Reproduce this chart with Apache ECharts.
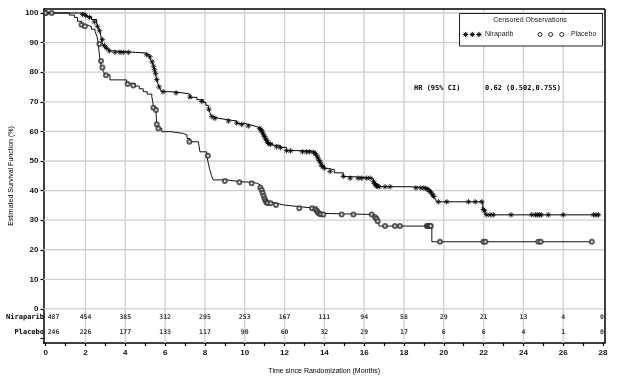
<!DOCTYPE html>
<html><head><meta charset="utf-8">
<script src="https://cdn.jsdelivr.net/npm/echarts@6/dist/echarts.min.js"></script>
<style>html,body{margin:0;padding:0;background:#fff}#c{width:623px;height:392px}</style>
</head><body><div id="c"></div><script>
// ---- data ----
const niraparibCurve = [[0,100],[1.7,100],[1.9,99.5],[2.06,98.8],[2.3,97.8],[2.56,96.5],[2.65,95],[2.73,93.7],[2.78,92],[2.81,90.3],[2.9,89],[2.98,88],[3.15,87.2],[3.4,86.7],[4.5,86.5],[5.0,85.9],[5.2,85.2],[5.3,83.8],[5.4,82.4],[5.45,81.2],[5.49,80.2],[5.55,78.5],[5.6,77],[5.66,75.7],[5.75,74.3],[5.83,73.4],[6.3,73.1],[6.8,72.6],[7.25,71.5],[7.6,70.7],[7.92,69.8],[8.05,68.8],[8.17,67.8],[8.25,66.3],[8.34,65],[8.45,64.4],[8.7,63.9],[9.18,63.5],[9.6,62.7],[10.0,62.2],[10.27,61.6],[10.6,61.0],[10.85,60.5],[10.93,59.5],[11.02,58.2],[11.1,57],[11.19,56],[11.4,55.3],[11.77,54.6],[12.1,53.5],[12.6,53.3],[13.53,52.9],[13.62,51.8],[13.7,50.9],[13.8,49.5],[13.87,48.3],[14.0,47.5],[14.2,47],[14.5,46],[14.95,44.7],[15.4,44.2],[16.45,43.2],[16.55,42],[16.71,41.3],[18.3,40.9],[19.2,40.3],[19.35,39.3],[19.45,38.3],[19.55,37.2],[19.65,36.2],[21.96,33.6],[22.07,31.8],[27.86,31.8]];
const placeboCurve = [[0,100],[1.2,99.3],[1.45,98.5],[1.6,97.2],[1.8,96],[2.06,95.4],[2.3,94.5],[2.48,93.7],[2.58,92],[2.64,89.8],[2.68,87],[2.73,84.1],[2.81,81.3],[2.9,80.2],[2.98,79.1],[3.23,77.4],[4.07,76.2],[4.49,75.3],[4.7,74.4],[4.9,73.4],[5.1,72.6],[5.33,71.7],[5.38,70],[5.41,68.3],[5.54,66.7],[5.56,64.5],[5.58,62.7],[5.66,61],[5.83,59.9],[6.3,59.3],[6.91,58.8],[7.1,57.6],[7.25,56.5],[7.67,56],[7.75,53.1],[8.09,52],[8.17,49.2],[8.25,47],[8.33,45],[8.42,43.6],[9.1,43.0],[9.76,42.8],[10.35,42.5],[10.6,42],[10.77,41.3],[10.85,40],[10.93,38.5],[11.0,37.4],[11.07,36.2],[11.27,35.7],[11.6,35.1],[12.0,34.6],[12.7,34.0],[13.6,32.9],[13.7,32.3],[13.87,31.9],[16.5,31.2],[16.63,30.6],[16.7,29.3],[16.76,28],[19.4,22.7],[27.44,22.7]];
const niraparibCensored = [[0,100],[0.05,100],[1.85,99.5],[2.0,99.2],[2.2,98.5],[2.45,97],[2.6,95.5],[2.7,94],[2.85,91],[2.95,89],[3.05,88.2],[3.2,87.2],[3.48,86.7],[3.73,86.7],[3.9,86.7],[4.15,86.7],[5.07,85.9],[5.24,85.2],[5.35,83.5],[5.42,82],[5.47,80.8],[5.52,79.5],[5.58,77.5],[5.7,75],[5.9,73.4],[6.55,73],[7.25,71.6],[7.84,70.1],[8.2,67.5],[8.35,65],[8.5,64.4],[9.18,63.5],[9.6,62.8],[9.85,62.3],[10.18,61.8],[10.75,61],[10.8,60.6],[10.85,60.2],[10.9,59.5],[10.95,58.8],[11.0,58.2],[11.05,57.5],[11.1,57],[11.15,56.3],[11.2,55.9],[11.3,55.6],[11.6,54.8],[11.8,54.5],[12.1,53.5],[12.3,53.4],[12.9,53.1],[13.1,53.1],[13.25,53.1],[13.45,52.9],[13.55,52.5],[13.62,51.8],[13.68,51],[13.74,50.2],[13.8,49.5],[13.85,48.6],[13.9,48.1],[14.0,47.6],[14.29,46.5],[14.95,44.8],[15.3,44.2],[15.7,44.2],[15.88,44.2],[16.13,44.2],[16.3,44.2],[16.47,43],[16.52,42.4],[16.58,41.9],[16.62,41.6],[16.67,41.5],[16.75,41.3],[17.05,41.3],[17.3,41.3],[18.6,40.9],[18.85,40.9],[19.0,40.9],[19.1,40.7],[19.2,40.3],[19.3,39.7],[19.38,39.2],[19.45,38.5],[19.5,38],[19.73,36.2],[20.15,36.2],[21.24,36.2],[21.58,36.2],[21.91,36.2],[21.99,33.6],[22.05,33.2],[22.16,31.8],[22.33,31.8],[22.49,31.8],[23.38,31.8],[24.42,31.8],[24.6,31.8],[24.7,31.8],[24.8,31.8],[24.9,31.8],[25.25,31.8],[26.0,31.8],[27.52,31.8],[27.65,31.8],[27.77,31.8]];
const placeboCensored = [[0,100],[0.3,100],[1.8,96],[1.97,95.5],[2.7,89.5],[2.78,83.8],[2.85,81.6],[3.03,79],[4.12,76],[4.4,75.5],[5.41,68],[5.54,67.2],[5.58,62.4],[5.66,61],[7.22,56.5],[8.15,51.8],[9.0,43.2],[9.73,42.8],[10.35,42.5],[10.78,41],[10.85,40.2],[10.9,39.2],[10.95,38.2],[11.0,37.2],[11.05,36.5],[11.1,36],[11.15,35.8],[11.3,35.7],[11.57,35.1],[12.74,34],[13.38,34],[13.55,33.8],[13.62,33.2],[13.68,32.6],[13.75,32.2],[13.82,32],[13.95,31.9],[14.87,31.9],[15.46,31.9],[16.38,31.9],[16.55,31],[16.62,30.5],[16.68,29.6],[17.05,28],[17.55,28],[17.8,28],[19.15,28],[19.2,28],[19.25,28],[19.3,28],[19.35,28],[19.81,22.7],[21.99,22.7],[22.09,22.7],[24.75,22.7],[24.87,22.7],[27.44,22.7]];
const riskTimes = [0,2,4,6,8,10,12,14,16,18,20,22,24,26,28];
const niraparibAtRisk = [487,454,385,312,295,253,167,111,94,58,29,21,13,4,0];
const placeboAtRisk = [246,226,177,133,117,90,60,32,29,17,6,6,4,1,0];
const armNames = ['Niraparib','Placebo'];
const xTickValues = [0,1,2,3,4,5,6,7,8,9,10,11,12,13,14,15,16,17,18,19,20,21,22,23,24,25,26,27,28];
const xLabelValues = [0,2,4,6,8,10,12,14,16,18,20,22,24,26,28];
const xGridValues = [2,4,6,8,10,12,14,16,18,20,22,24,26];
const yTickValues = [-10,0,10,20,30,40,50,60,70,80,90,100];
const yLabelValues = [0,10,20,30,40,50,60,70,80,90,100];
const yGridValues = [0,10,20,30,40,50,60,70,80,90,100];
const yTitle = 'Estimated Survival Function (%)';
const xTitle = 'Time since Randomization (Months)';
const legendTitle = 'Censored Observations';
const hrLabel = 'HR (95% CI)';
const hrValue = '0.62 (0.502,0.755)';

(function () {
  const X_MIN = -0.11, X_MAX = 28.1, Y_MIN = -11.5, Y_MAX = 101.35;
  const NIR_ROW = -2.7, PLA_ROW = -7.8;
  const starPath = 'path://M5 0V10M0 5H10M1.6 1.6L8.4 8.4M1.6 8.4L8.4 1.6';
  const mono = 'DejaVu Sans Mono';
  const sans = 'Liberation Sans';
  const gridColor = '#cfcfcf';

  function riskData(vals, row) {
    return riskTimes.map((t, i) => {
      const item = { value: [t, row, vals[i]] };
      if (i === 0) item.label = { align: 'left', offset: [2, 0] };
      if (i === riskTimes.length - 1) item.label = { align: 'right', offset: [1, 0] };
      return item;
    });
  }
  const riskLabel = {
    show: true, position: 'inside', formatter: p => String(p.value[2]),
    fontFamily: mono, fontSize: 6.5, fontWeight: 'bold', color: '#000', align: 'center'
  };

  function starGlyph(cx, cy, r) {
    const d = r * 0.7;
    const segs = [[0,-r,0,r],[-r,0,r,0],[-d,-d,d,d],[-d,d,d,-d]];
    return segs.map(s => ({ type: 'line', shape: { x1: cx + s[0], y1: cy + s[1], x2: cx + s[2], y2: cy + s[3] },
      style: { stroke: '#000', lineWidth: 1 }, z: 11 }));
  }

  const chart = echarts.init(document.getElementById('c'));
  chart.setOption({
    animation: false,
    backgroundColor: '#fff',
    grid: { left: 43.5, right: 18, top: 9, bottom: 49, show: false, outerBoundsMode: 'none' },
    xAxis: {
      type: 'value', min: X_MIN, max: X_MAX,
      name: xTitle, nameLocation: 'middle', nameGap: 25,
      nameTextStyle: { fontFamily: sans, fontSize: 7, color: '#000' },
      axisLine: { show: true, onZero: false, lineStyle: { color: '#000', width: 1.5 } },
      axisTick: { show: true, length: 3, customValues: xTickValues, lineStyle: { color: '#000', width: 1.2 } },
      axisLabel: { customValues: xLabelValues, margin: 6, fontFamily: sans, fontSize: 8, fontWeight: 'bold', color: '#111' },
      splitLine: { show: false }
    },
    yAxis: {
      type: 'value', min: Y_MIN, max: Y_MAX, position: 'left',
      name: yTitle, nameLocation: 'middle', nameGap: 26,
      nameTextStyle: { fontFamily: sans, fontSize: 7, color: '#000' },
      axisLine: { show: true, onZero: false, lineStyle: { color: '#000', width: 1.5 } },
      axisTick: { show: true, length: 3, customValues: yTickValues, lineStyle: { color: '#000', width: 1.2 } },
      axisLabel: { customValues: yLabelValues, margin: 5, fontFamily: sans, fontSize: 8, fontWeight: 'bold', color: '#111' },
      splitLine: { show: false }
    },
    series: [
      { name: armNames[0], type: 'line', step: 'end', data: niraparibCurve, showSymbol: false, symbol: 'none',
        lineStyle: { color: '#000', width: 1 }, z: 5 },
      { name: armNames[1], type: 'line', step: 'end', data: placeboCurve, showSymbol: false, symbol: 'none',
        lineStyle: { color: '#111', width: 1 }, z: 4 },
      { name: armNames[0] + ' censored', type: 'scatter', data: niraparibCensored, symbol: starPath, symbolSize: 5.5,
        itemStyle: { color: 'none', borderColor: '#000', borderWidth: 1 }, z: 6 },
      { name: armNames[1] + ' censored', type: 'scatter', data: placeboCensored, symbol: 'emptyCircle', symbolSize: 4,
        itemStyle: { color: '#333', borderWidth: 1 }, z: 6 },
      { type: 'scatter', data: riskData(niraparibAtRisk, NIR_ROW), symbolSize: 0.01, label: riskLabel, silent: true, z: 7 },
      { type: 'scatter', data: riskData(placeboAtRisk, PLA_ROW), symbolSize: 0.01, label: riskLabel, silent: true, z: 7 }
    ]
  });

  // grid lines and frame, positioned through the chart's own scales
  const toX = v => chart.convertToPixel({ xAxisIndex: 0 }, v);
  const toY = v => chart.convertToPixel({ yAxisIndex: 0 }, v);
  const gL = toX(X_MIN), gR = toX(X_MAX), gT = toY(Y_MAX), gB = toY(Y_MIN);
  const gridEls = [
    ...xGridValues.map(v => ({ type: 'line', shape: { x1: toX(v), y1: gT, x2: toX(v), y2: gB }, style: { stroke: gridColor, lineWidth: 1.3 }, z: 2, silent: true })),
    ...yGridValues.map(v => ({ type: 'line', shape: { x1: gL, y1: toY(v), x2: gR, y2: toY(v) }, style: { stroke: gridColor, lineWidth: 1.3 }, z: 2, silent: true })),
    { type: 'line', shape: { x1: gL, y1: gT, x2: gR, y2: gT }, style: { stroke: '#000', lineWidth: 1.5 }, z: 3, silent: true },
    { type: 'line', shape: { x1: gR, y1: gT, x2: gR, y2: gB }, style: { stroke: '#000', lineWidth: 1.5 }, z: 3, silent: true }
  ];

  chart.setOption({
    graphic: [
      ...gridEls,
      { type: 'text', x: 44, y: 317, style: { text: armNames[0], fontFamily: mono, fontSize: 7, fontWeight: 'bold', fill: '#000', align: 'right', verticalAlign: 'middle' }, z: 10 },
      { type: 'text', x: 44, y: 332, style: { text: armNames[1], fontFamily: mono, fontSize: 7, fontWeight: 'bold', fill: '#000', align: 'right', verticalAlign: 'middle' }, z: 10 },
      { type: 'text', x: 414, y: 88, style: { text: hrLabel, fontFamily: mono, fontSize: 7, fontWeight: 'bold', fill: '#000', align: 'left', verticalAlign: 'middle' }, z: 10 },
      { type: 'text', x: 485, y: 88, style: { text: hrValue, fontFamily: mono, fontSize: 7, fontWeight: 'bold', fill: '#000', align: 'left', verticalAlign: 'middle' }, z: 10 },
      { type: 'rect', shape: { x: 459.5, y: 13.5, width: 143, height: 32.5 }, style: { fill: '#fff', stroke: '#222', lineWidth: 1 }, z: 10 },
      { type: 'text', x: 530, y: 20.5, style: { text: legendTitle, fontFamily: sans, fontSize: 7, fill: '#222', align: 'center', verticalAlign: 'middle' }, z: 11 },
      { type: 'text', x: 485, y: 34.5, style: { text: armNames[0], fontFamily: sans, fontSize: 7, fill: '#222', align: 'left', verticalAlign: 'middle' }, z: 11 },
      { type: 'text', x: 571, y: 34.5, style: { text: armNames[1], fontFamily: sans, fontSize: 7, fill: '#222', align: 'left', verticalAlign: 'middle' }, z: 11 },
      ...[465.7, 472.3, 479].flatMap(cx => starGlyph(cx, 34.5, 2.6)),
      ...[540, 550.7, 561.7].map(cx => ({ type: 'circle', shape: { cx: cx, cy: 34.5, r: 2 }, style: { fill: '#fff', stroke: '#222', lineWidth: 1 }, z: 11 }))
    ]
  });
})();
</script></body></html>
